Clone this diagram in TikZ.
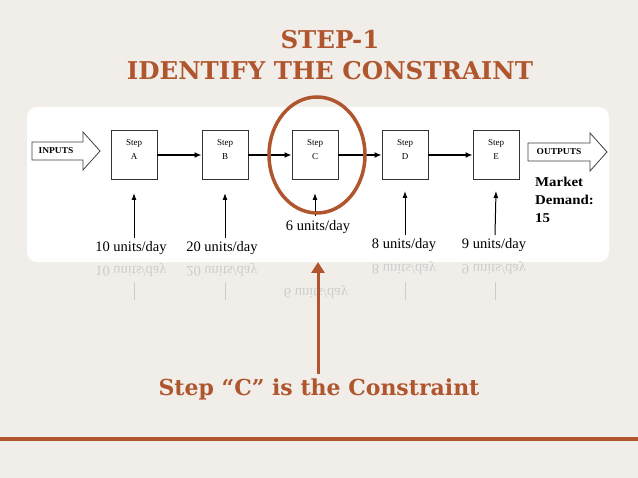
\documentclass[tikz,border=0pt]{standalone}
\usepackage{fontspec}
\setmainfont{Liberation Serif}
\newfontfamily\headfont{DejaVu Serif}
\usetikzlibrary{arrows.meta}
\definecolor{bgc}{RGB}{241,238,233}
\definecolor{rust}{RGB}{176,86,46}
\definecolor{refl}{RGB}{205,205,205}
\tikzset{
  stepbox/.style={draw=black!80,line width=0.9pt,fill=white,minimum width=46pt,minimum height=49pt,inner sep=0pt,font=\fontsize{9}{10}\selectfont,align=center},
  flow/.style={-{Latex[length=7pt,width=6pt]},line width=1.8pt},
  feed/.style={-{Latex[length=7pt,width=5pt]},line width=1pt},
  rate/.style={font=\fontsize{14.5}{15}\selectfont,inner sep=0pt},
  rrate/.style={font=\fontsize{14.5}{15}\selectfont,inner sep=0pt,text=refl,yscale=-1},
  blockarrow/.style={draw=black!75,line width=0.8pt,fill=white,line join=miter},
  arrowtext/.style={font=\fontsize{9}{9}\selectfont\bfseries,inner sep=0pt,xscale=1.05},
  title/.style={text=rust,font=\headfont\fontsize{24.5}{27}\selectfont\bfseries,align=center},
}
\begin{document}
\begin{tikzpicture}[x=1pt,y=-1pt]
\useasboundingbox (0,0) rectangle (638,478);
\fill[bgc] (0,0) rectangle (638,478);
% title
\node[title] (t1) at (330,40) {STEP-1};
\node[title] (t2) at (330,71) {IDENTIFY THE CONSTRAINT};
% white panel
\fill[white,rounded corners=10pt] (27,107) rectangle (609,262);
% reflections
\node[rrate] (ra) at (131,270) {10 units/day};
\node[rrate] (rb) at (222,270) {20 units/day};
\node[rrate] (rc) at (316,292) {6 units/day};
\node[rrate] (rd) at (404,268) {8 units/day};
\node[rrate] (re) at (494,268) {9 units/day};
\draw[refl,line width=0.8pt] (134,282) -- (134,300);
\draw[refl,line width=0.8pt] (225,282) -- (225,300);
\draw[refl,line width=0.8pt] (405,282) -- (405,300);
\draw[refl,line width=0.8pt] (495,282) -- (495,300);
% input/output arrows
\draw[blockarrow] (32,142) -- (83,142) -- (83,132) -- (100,151) -- (83,170) -- (83,160) -- (32,160) -- cycle;
\node[arrowtext] (in) at (56,151) {INPUTS};
\draw[blockarrow] (528,143) -- (590,143) -- (590,133) -- (607,152) -- (590,171) -- (590,161) -- (528,161) -- cycle;
\node[arrowtext] (out) at (559,152) {OUTPUTS};
% steps
\node[stepbox] (A) at (134,155) {Step\\[4pt]A\\[0pt]};
\node[stepbox] (B) at (225,155) {Step\\[4pt]B\\[0pt]};
\node[stepbox] (C) at (315,155) {Step\\[4pt]C\\[0pt]};
\node[stepbox] (D) at (405,155) {Step\\[4pt]D\\[0pt]};
\node[stepbox] (E) at (496,155) {Step\\[4pt]E\\[0pt]};
\draw[flow] (A) -- (B);
\draw[flow] (B) -- (C);
\draw[flow] (C) -- (D);
\draw[flow] (D) -- (E);
% rates
\node[rate] (la) at (131,248) {10 units/day};
\node[rate] (lb) at (222,248) {20 units/day};
\node[rate] (lc) at (318,227) {6 units/day};
\node[rate] (ld) at (404,245) {8 units/day};
\node[rate] (le) at (494,245) {9 units/day};
\coordinate (fa) at (134,238);
\coordinate (fb) at (225,238);
\coordinate (fc) at (315,216);
\coordinate (fd) at (405,235);
\coordinate (fe) at (495,235);
\draw[feed] (fa) -- (A.south |- 0,193);
\draw[feed] (fb) -- (B.south |- 0,193);
\draw[feed] (fc) -- (C.south |- 0,193);
\draw[feed] (fd) -- (D.south |- 0,191);
\draw[feed] (fe) -- (E.south |- 0,191);
\node[font=\fontsize{13.5}{18}\selectfont\bfseries,align=left,anchor=north west,inner sep=0pt,xscale=1.1] (md) at (535,177) {Market\\Demand:\\15};
% constraint highlight
\draw[rust,line width=3.5pt] (317,155) ellipse (48pt and 58pt);
\node[text=rust,font=\headfont\fontsize{22}{24}\selectfont\bfseries,inner sep=0pt] (cap) at (319,389) {Step “C” is the Constraint};
\coordinate (tipc) at (318,262);
\draw[rust,line width=3pt,-{Triangle[length=11pt,width=13pt]}] (cap.north -| tipc) ++(0,-4) -- (tipc);
\draw[rust,line width=3.5pt] (0,439) -- (638,439);
\end{tikzpicture}
\end{document}
